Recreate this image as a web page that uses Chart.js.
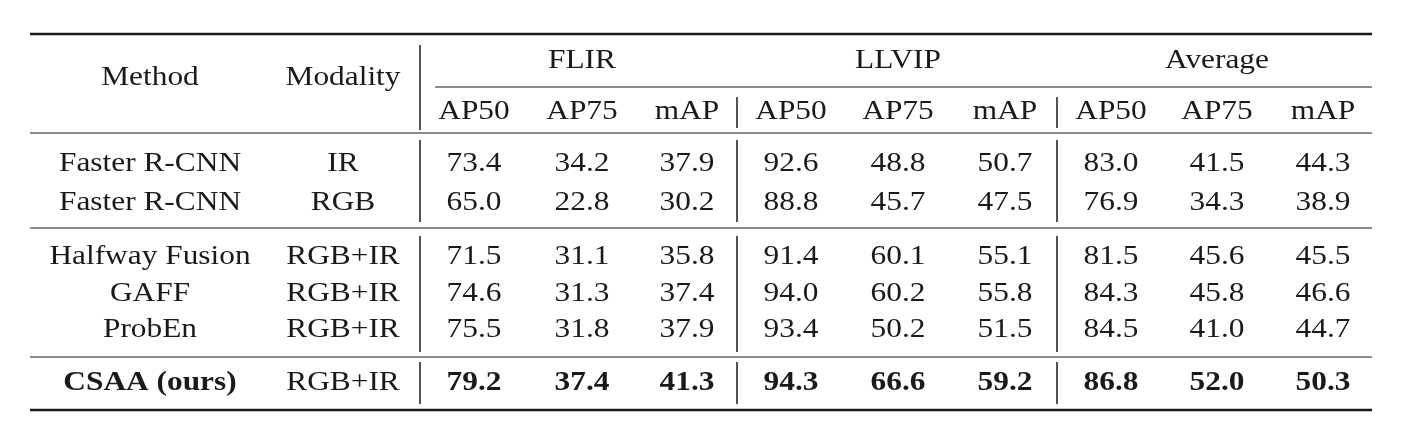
<!DOCTYPE html>
<html><head><meta charset="utf-8">
<script src="https://cdn.jsdelivr.net/npm/chart.js@4"></script>
<style>html,body{margin:0;padding:0;background:#fff}#w{width:1421px;height:445px}</style>
</head><body><div id="w"><canvas id="c"></canvas></div>
<script>
const methods = ["Faster R-CNN","Faster R-CNN","Halfway Fusion","GAFF","ProbEn","CSAA (ours)"];
const modalities = ["IR","RGB","RGB+IR","RGB+IR","RGB+IR","RGB+IR"];
const groups = ["FLIR","LLVIP","Average"];
const metrics = ["AP50","AP75","mAP"];
const flir = [[73.4,34.2,37.9],[65.0,22.8,30.2],[71.5,31.1,35.8],[74.6,31.3,37.4],[75.5,31.8,37.9],[79.2,37.4,41.3]];
const llvip = [[92.6,48.8,50.7],[88.8,45.7,47.5],[91.4,60.1,55.1],[94.0,60.2,55.8],[93.4,50.2,51.5],[94.3,66.6,59.2]];
const average = [[83.0,41.5,44.3],[76.9,34.3,38.9],[81.5,45.6,45.5],[84.3,45.8,46.6],[84.5,41.0,44.7],[86.8,52.0,50.3]];

const colX = [150,343,474,582,687,791,898,1005,1111,1217,1323];
const rowY = [163,202,256,293,329,382];
const FONT = '"Liberation Serif", "DejaVu Serif", serif';

const tablePlugin = {
  id:'table',
  afterDraw(chart){
    const ctx = chart.ctx, xs = chart.scales.x, ys = chart.scales.y;
    const X = v=>xs.getPixelForValue(v), Y = v=>ys.getPixelForValue(v);
    ctx.save();
    ctx.strokeStyle='#1a1a1a';
    const hl=(x1,x2,y,w)=>{ctx.lineWidth=w;ctx.beginPath();ctx.moveTo(X(x1),Y(y));ctx.lineTo(X(x2),Y(y));ctx.stroke();};
    const vl=(x,y1,y2)=>{ctx.lineWidth=1.5;ctx.beginPath();ctx.moveTo(X(x),Y(y1));ctx.lineTo(X(x),Y(y2));ctx.stroke();};
    hl(30,1372,34,2.5); hl(435,1372,87,1.2); hl(30,1372,133,1.2);
    hl(30,1372,228,1.2); hl(30,1372,357,1.2); hl(30,1372,410,2.5);
    vl(420,45,130);
    [737,1057].forEach(x=>vl(x,97,128));
    [[140,222],[236,352],[362,404]].forEach(([a,b])=>{[420,737,1057].forEach(x=>vl(x,a,b));});
    ctx.fillStyle='#1a1a1a'; ctx.textAlign='center'; ctx.textBaseline='middle';
    const t=(s,x,y,b)=>{ctx.save();ctx.font=(b?'bold ':'')+'28px '+FONT;ctx.translate(X(x),Y(y)+1);ctx.scale(1.12,1);ctx.fillText(s,0,0);ctx.restore();};
    t('Method',colX[0],77); t('Modality',colX[1],77);
    groups.forEach((g,i)=>t(g,colX[3+3*i],60));
    for(let g=0;g<3;g++) metrics.forEach((m,j)=>t(m,colX[2+3*g+j],111));
    const all=[flir,llvip,average];
    methods.forEach((m,r)=>{
      const b = r===methods.length-1;
      t(m,colX[0],rowY[r],b); t(modalities[r],colX[1],rowY[r],false);
      all.forEach((arr,g)=>arr[r].forEach((v,j)=>t(v.toFixed(1),colX[2+3*g+j],rowY[r],b)));
    });
    ctx.restore();
  }
};

new Chart(document.getElementById('c'),{
  type:'scatter',
  data:{datasets:[{data:[],pointRadius:0}]},
  options:{
    responsive:true,maintainAspectRatio:false,animation:false,
    layout:{padding:0},
    plugins:{legend:{display:false},tooltip:{enabled:false}},
    scales:{
      x:{type:'linear',min:0,max:1421,display:false},
      y:{type:'linear',min:0,max:445,reverse:true,display:false}
    }
  },
  plugins:[tablePlugin]
});
</script></body></html>
